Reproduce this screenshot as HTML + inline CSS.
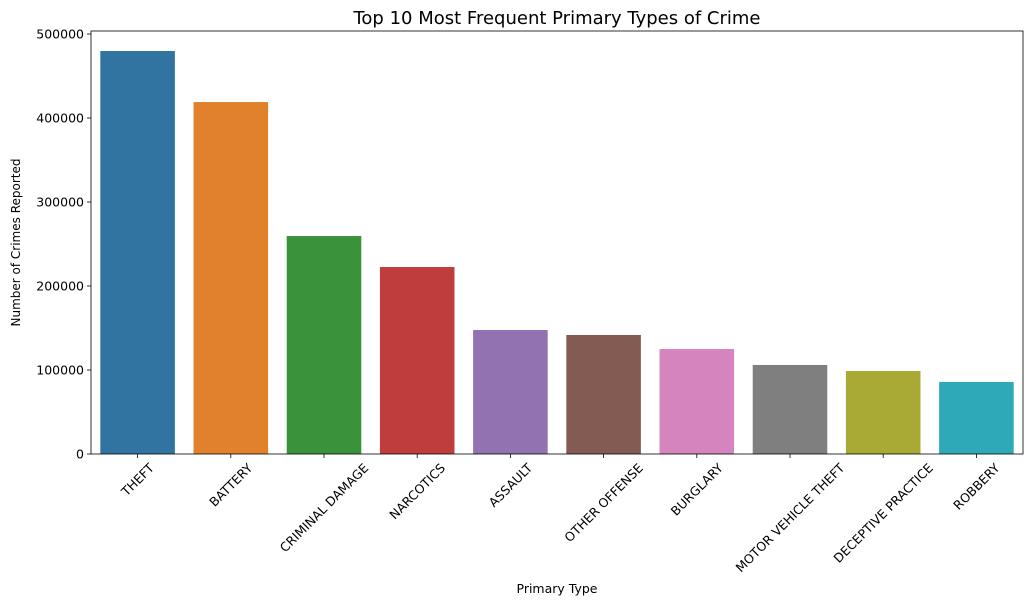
<!DOCTYPE html>
<html><head><meta charset="utf-8"><style>
body{margin:0;background:#fff;font-family:"Liberation Sans","DejaVu Sans",sans-serif;}
</style></head><body>
<svg id="chart" width="1032" height="605" xmlns="http://www.w3.org/2000/svg" font-family="DejaVu Sans, Liberation Sans, sans-serif"></svg>
<script>
const categories=["THEFT","BATTERY","CRIMINAL DAMAGE","NARCOTICS","ASSAULT","OTHER OFFENSE","BURGLARY","MOTOR VEHICLE THEFT","DECEPTIVE PRACTICE","ROBBERY"];
const values=[479800,419000,259500,222600,147600,141700,125000,106000,98800,85700];
const colors=["#3274a1","#e1812c","#3a923a","#c03d3e","#9372b2","#845b53","#d684bd","#7f7f7f","#a9aa35","#2ea9b8"];
const yTicks=[0,100000,200000,300000,400000,500000];
const NS="http://www.w3.org/2000/svg";
const svg=document.getElementById('chart');
const L=91,R=1023,T=31,B=454,yMax=503600;
const y=v=>B-(v/yMax)*(B-T);
const step=(R-L)/categories.length;
const x=i=>L+step*i+step/2;
function mk(t,a,txt){const e=document.createElementNS(NS,t);for(const k in a)e.setAttribute(k,a[k]);if(txt!==undefined)e.textContent=txt;svg.appendChild(e);return e;}
categories.forEach((c,i)=>{
  const bw=step*0.8;
  const r=mk('rect',{x:x(i)-bw/2,y:y(values[i]),width:bw,height:B-y(values[i]),fill:colors[i]});
  
  
  const tk=mk('line',{x1:x(i),x2:x(i),y1:B,y2:B+4,stroke:'#000','stroke-width':0.8});
  
  
  const t=mk('text',{x:x(i),y:0,'font-size':12.5,'text-anchor':'middle','dominant-baseline':'central'},c);
  
  
  const w=t.getComputedTextLength();
  const cy=B+7+(w+13)*0.7071/2;
  t.setAttribute('y',cy);
  t.setAttribute('transform',`rotate(-45 ${x(i)} ${cy})`);
});
yTicks.forEach(v=>{
  const tk=mk('line',{x1:L-4,x2:L,y1:y(v),y2:y(v),stroke:'#000','stroke-width':0.8});
  
  
  const t=mk('text',{x:L-7,y:y(v)+4.5,'font-size':12.5,'text-anchor':'end'},String(v));
  
  
});
const fr=mk('rect',{x:L,y:T,width:R-L,height:B-T,fill:'none',stroke:'#000','stroke-width':0.8});


const ti=mk('text',{x:(L+R)/2,y:24,'font-size':18,'text-anchor':'middle'},'Top 10 Most Frequent Primary Types of Crime');


const xt=mk('text',{x:(L+R)/2,y:593,'font-size':12.5,'text-anchor':'middle'},'Primary Type');


const yt=mk('text',{x:20,y:(T+B)/2,'font-size':12,'text-anchor':'middle',transform:`rotate(-90 20 ${(T+B)/2})`},'Number of Crimes Reported');


</script>
</body></html>
